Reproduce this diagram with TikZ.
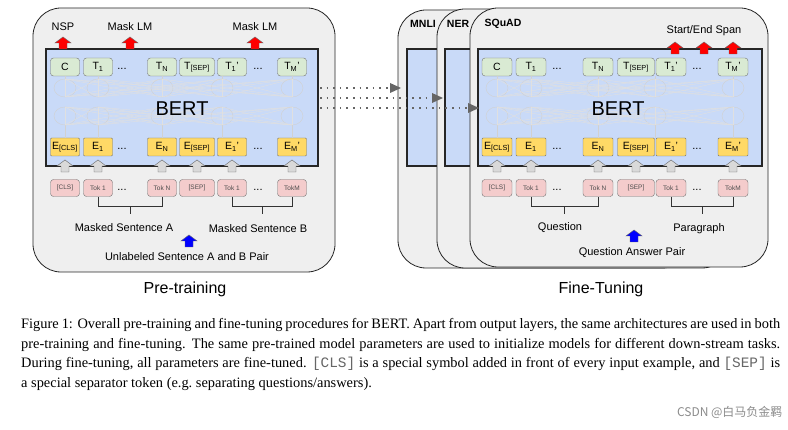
\documentclass[tikz,border=0pt]{standalone}
\usetikzlibrary{calc}
\usepackage{fontspec}
\setmainfont{Liberation Serif}
\setsansfont{Liberation Sans}
\setmonofont{Liberation Mono}
\newfontfamily\cjkfont{Noto Sans CJK SC}
\definecolor{panelbg}{HTML}{EFEFEF}
\definecolor{bertblue}{HTML}{C9DAF8}
\definecolor{tgreen}{HTML}{D9EAD3}
\definecolor{eyellow}{HTML}{FFD966}
\definecolor{kpink}{HTML}{F4CCCC}
\definecolor{arrgray}{HTML}{D9D9D9}
\tikzset{
 panel/.style={draw=black!85, line width=0.8pt, fill=panelbg, rounded corners=28pt},
 bert/.style={draw=black!85, line width=1.2pt, fill=bertblue},
 cell/.style={draw=black!55, rounded corners=3pt, minimum height=18pt, inner sep=0pt, font=\sffamily\fontsize{10.5}{10}\selectfont},
 tbox/.style={cell, fill=tgreen},
 ebox/.style={cell, fill=eyellow, rounded corners=1pt},
 kbox/.style={cell, fill=kpink, minimum height=17pt, font=\sffamily\fontsize{6.5}{7}\selectfont, text=black!70},
 lab/.style={font=\sffamily\fontsize{11}{11}\selectfont},
 big/.style={font=\sffamily\fontsize{20}{20}\selectfont},
 hd/.style={font=\sffamily\bfseries\fontsize{10.5}{10}\selectfont},
 ghost/.style={draw=black!18, line width=0.4pt},
 bracket/.style={draw=black!80, line width=0.7pt},
 dotarrow/.style={draw=black!60, line width=1.6pt, dash pattern=on 1.6pt off 5pt},
}
% block up-arrow: x, ytip, color
\newcommand\blkarrow[3]{\fill[#3, draw=black!60, line width=0.4pt] (#1-4,#2+12) -- (#1-4,#2+6) -- (#1-8,#2+6) -- (#1,#2) -- (#1+8,#2+6) -- (#1+4,#2+6) -- (#1+4,#2+12) -- cycle;}
% panel internals: prefix, col list, dots x1, dots x2, ghost xs, word x
\newcommand\bertinside[6]{
 \foreach \x/\i/\tl/\el/\kl/\w in {#2}{
  \node[tbox, minimum width=\w pt] (#1t\i) at (\x,67) {\tl};
  \node[ebox, minimum width=\w pt] (#1e\i) at (\x,147) {\el};
  \node[kbox, minimum width=\w pt] (#1k\i) at (\x,188) {\kl};
  \blkarrow{\x}{160}{arrgray}
 }
 \foreach \dx in {#3,#4}{
  \node[lab] at (\dx,69) {...};
  \node[lab] at (\dx,149) {...};
  \node[lab] at (\dx,190) {...};
 }
 \foreach \gx in {#5}{
  \draw[ghost] (\gx,88) ellipse (11pt and 9pt);
  \draw[ghost] (\gx,116) ellipse (11pt and 9pt);
  \draw[ghost] (\gx,76) -- (\gx,79);
  \draw[ghost] (\gx,125) -- (\gx,138);
  \foreach \hx in {#5}{
   \draw[ghost, draw=black!12] (\gx,125) -- (\hx,107);
   \draw[ghost, draw=black!12] (\gx,97) -- (\hx,79);
  }
 }
 \node[big] (#1word) at (#6,109) {BERT};
}
\begin{document}
\begin{tikzpicture}[x=1pt,y=-1pt]
\useasboundingbox[fill=white] (0,0) rectangle (788,430);
% ---------- left: pre-training ----------
\path[panel] (33,8) rectangle (335,272);
\path[bert] (46,49) rectangle (318,166);
\bertinside{L}{65/a/C/E\textsubscript{[CLS]}/[CLS]/29, 98/b/T\textsubscript{1}/E\textsubscript{1}/Tok 1/29, 162/c/T\textsubscript{N}/E\textsubscript{N}/Tok N/29, 197/d/T\textsubscript{[SEP]}/E\textsubscript{[SEP]}/[SEP]/35, 232/e/T\textsubscript{1}'/E\textsubscript{1}'/Tok 1/29, 292/f/T\textsubscript{M}'/E\textsubscript{M}'/TokM/29}{122}{258}{65,98,162,222,292}{182}
\node[lab] (nsp) at (63,27) {NSP};
\node[lab] (mlm1) at (130,27) {Mask LM};
\node[lab] (mlm2) at (255,27) {Mask LM};
\blkarrow{63}{37}{red}
\blkarrow{130}{37}{red}
\blkarrow{255}{37}{red}
\draw[bracket] (Lkb.south) -- ++(0,10) -| (Lkc.south);
\draw[bracket] ($(Lkb.south)!0.5!(Lkc.south)+(0,10)$) -- ++(0,7);
\draw[bracket] (Lke.south) -- ++(0,10) -| (Lkf.south);
\draw[bracket] ($(Lke.south)!0.5!(Lkf.south)+(0,10)$) -- ++(0,7);
\node[lab] (msa) at (124,228) {Masked Sentence A};
\node[lab] (msb) at (258,229) {Masked Sentence B};
\blkarrow{189}{235}{blue}
\node[lab] (unl) at (187,257) {Unlabeled Sentence A and B Pair};
\node[font=\sffamily\fontsize{16}{16}\selectfont] (pre) at (185,289) {Pre-training};
% ---------- right: fine-tuning ----------
\path[panel] (398,10) rectangle (690,268);
\path[bert] (407,49) rectangle (470,166);
\path[panel] (437,9) rectangle (730,268);
\path[bert] (445,49) rectangle (478,166);
\path[panel] (470,8) rectangle (768,267);
\path[bert] (478,49) rectangle (762,166);
\node[hd] (mnli) at (423,24) {MNLI};
\node[hd] (ner) at (458,24) {NER};
\node[hd] (squad) at (503,24) {SQuAD};
\bertinside{R}{497/a/C/E\textsubscript{[CLS]}/[CLS]/30, 531/b/T\textsubscript{1}/E\textsubscript{1}/Tok 1/30, 598/c/T\textsubscript{N}/E\textsubscript{N}/Tok N/30, 636/d/T\textsubscript{[SEP]}/E\textsubscript{[SEP]}/[SEP]/37, 671/e/T\textsubscript{1}'/E\textsubscript{1}'/Tok 1/30, 733/f/T\textsubscript{M}'/E\textsubscript{M}'/TokM/30}{557}{697}{497,531,598,655,733}{618}
\node[lab] (span) at (704,31) {Start/End Span};
\blkarrow{675}{42}{red}
\blkarrow{704}{42}{red}
\blkarrow{733}{42}{red}
\draw[bracket] (Rkb.south) -- ++(0,10) -| (Rkc.south);
\draw[bracket] ($(Rkb.south)!0.5!(Rkc.south)+(0,10)$) -- ++(0,7);
\draw[bracket] (Rke.south) -- ++(0,10) -| (Rkf.south);
\draw[bracket] ($(Rke.south)!0.5!(Rkf.south)+(0,10)$) -- ++(0,7);
\node[lab] (ques) at (560,228) {Question};
\node[lab] (para) at (699,229) {Paragraph};
\blkarrow{634}{230}{blue}
\node[lab] (qap) at (632,253) {Question Answer Pair};
\node[font=\sffamily\fontsize{16}{16}\selectfont] (ft) at (601,289) {Fine-Tuning};
% ---------- dotted transfer arrows ----------
\coordinate (s1) at (320,88); \coordinate (e1) at (390,88);
\coordinate (s2) at (320,98); \coordinate (e2) at (432,98);
\coordinate (s3) at (320,108); \coordinate (e3) at (468,108);
\foreach \k in {1,2,3}{
 \draw[dotarrow] (s\k) -- (e\k);
 \fill[black!60] (e\k) ++(0,-5) -- ++(11,5) -- ++(-11,5) -- cycle;
}
% ---------- caption ----------
\node[anchor=north west, text width=759pt, align=justify, inner sep=0pt, font=\fontsize{14.4}{19.8}\selectfont] (cap) at (21,318)
{Figure 1: Overall pre-training and fine-tuning procedures for BERT. Apart from output layers, the same architectures are used in both pre-training and fine-tuning. The same pre-trained model parameters are used to initialize models for different down-stream tasks. During fine-tuning, all parameters are fine-tuned. {\color{black!60}\ttfamily [CLS]} is a special symbol added in front of every input example, and {\color{black!60}\ttfamily [SEP]} is a special separator token (e.g.\ separating questions/answers).};
\node[anchor=east, font=\cjkfont\fontsize{12}{12}\selectfont, text=black!45] (wm) at (786,412) {CSDN @白马负金羁};
\end{tikzpicture}
\end{document}
